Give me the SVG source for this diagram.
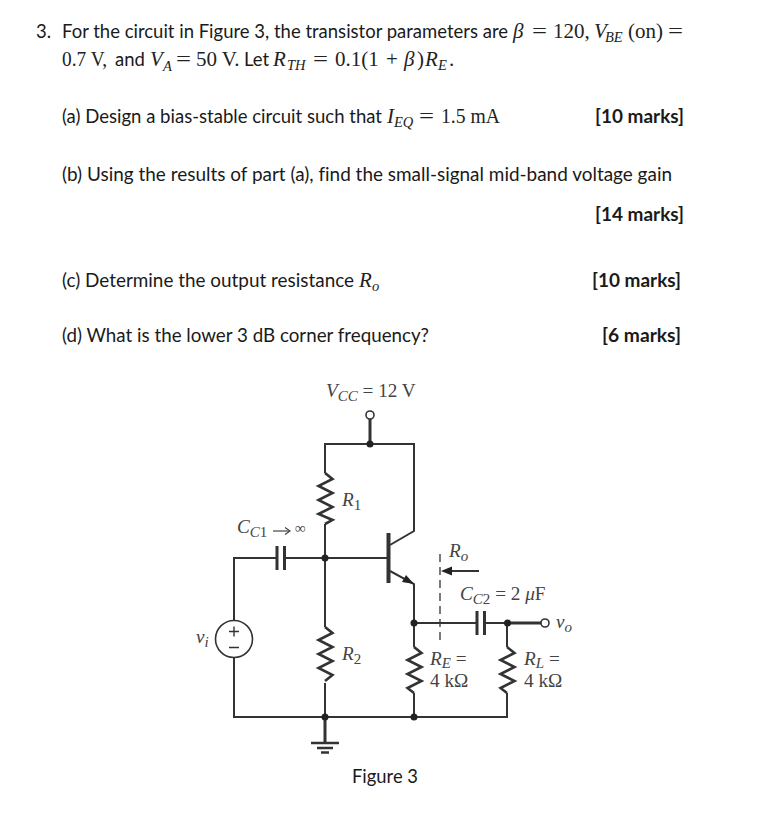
<svg xmlns="http://www.w3.org/2000/svg" width="761" height="814" viewBox="0 0 761 814">
<style>
.t{font-family:Lato,"Liberation Sans",sans-serif;font-size:18.5px;fill:#1a1a1a;font-variant-ligatures:none}
.b{font-weight:700}
.m{font-family:"Liberation Serif",serif;font-size:21px;fill:#222}
.i{font-style:italic}
.s{font-size:14.500px}
.c{font-family:"Liberation Serif",serif;font-size:19.200px;fill:#444}
.cs{font-size:15px}
.w{fill:none;stroke:#333;stroke-width:2;stroke-linejoin:miter}
.k{stroke-width:3}
.z{stroke-width:2.600}
.d{fill:#222}
</style>
<rect width="761" height="814" fill="#fff"/>
<g id="text">
<text class="t" x="36" y="38">3.</text>
<text class="t" x="62" y="38" textLength="446" lengthAdjust="spacingAndGlyphs">For the circuit in Figure 3, the transistor parameters are</text>
<text class="m i" x="513" y="38">β</text><text class="m" x="532" y="38" textLength="15" lengthAdjust="spacingAndGlyphs">=</text><text class="m" x="553" y="38">120,</text>
<text class="m i" x="594" y="38">V</text><text class="m i s" x="605" y="42">BE</text><text class="m" x="628" y="38">(on)</text><text class="m" x="668" y="38" textLength="15" lengthAdjust="spacingAndGlyphs">=</text>
<text class="m" x="62" y="66" textLength="45" lengthAdjust="spacingAndGlyphs">0.7 V,</text><text class="t" x="115" y="66">and</text>
<text class="m i" x="150" y="66">V</text><text class="m i s" x="163" y="71">A</text><text class="m" x="176" y="66" textLength="15" lengthAdjust="spacingAndGlyphs">=</text><text class="m" x="196" y="66">50 V.</text>
<text class="t" x="244" y="66">Let</text>
<text class="m i" x="273" y="66">R</text><text class="m i s" x="287" y="70">TH</text><text class="m" x="313" y="66" textLength="15" lengthAdjust="spacingAndGlyphs">=</text><text class="m" x="335" y="66">0.1(1</text><text class="m" x="386" y="66">+</text><text class="m i" x="404" y="66">β</text><text class="m" x="417" y="66">)</text><text class="m i" x="425" y="66">R</text><text class="m i s" x="438" y="70">E</text><text class="m" x="449" y="66">.</text>
<text class="t" x="62" y="123" textLength="320" lengthAdjust="spacingAndGlyphs">(a) Design a bias-stable circuit such that</text>
<text class="m i" x="387" y="123">I</text><text class="m i s" x="394" y="127">EQ</text><text class="m" x="419" y="123" textLength="15" lengthAdjust="spacingAndGlyphs">=</text><text class="m" x="441" y="123" textLength="59" lengthAdjust="spacingAndGlyphs">1.5 mA</text>
<text class="t b" x="595" y="123" textLength="89" lengthAdjust="spacingAndGlyphs">[10 marks]</text>
<text class="t" x="62" y="181" textLength="610" lengthAdjust="spacingAndGlyphs">(b) Using the results of part (a), find the small-signal mid-band voltage gain</text>
<text class="t b" x="595" y="221" textLength="89" lengthAdjust="spacingAndGlyphs">[14 marks]</text>
<text class="t" x="62" y="287" textLength="292" lengthAdjust="spacingAndGlyphs">(c) Determine the output resistance</text>
<text class="m i" x="359" y="287">R</text><text class="m i s" x="372" y="291">o</text>
<text class="t b" x="592" y="287" textLength="89" lengthAdjust="spacingAndGlyphs">[10 marks]</text>
<text class="t" x="62" y="342" textLength="367" lengthAdjust="spacingAndGlyphs">(d) What is the lower 3 dB corner frequency?</text>
<text class="t b" x="602" y="342" textLength="79" lengthAdjust="spacingAndGlyphs">[6 marks]</text>
<text class="t" x="352" y="783" textLength="66" lengthAdjust="spacingAndGlyphs">Figure 3</text>
</g>
<g id="connectors">
<path class="w k" d="M370 419V444"/>
<path class="w" d="M325 473V444H414V531L390 545"/>
<path class="w" d="M325 524V558M325 558H388M234 620V558H277M285 558H325"/>
<path class="w" d="M325 558V627M325 683V717M234 658V717H507V693M507 647V623"/>
<path class="w" d="M390 571L414 584V647M414 693V717M414 623H476M484 623H507"/>
<path class="w k" d="M507 623H541M325 717V743"/>
<path d="M440 554V640" fill="none" stroke="#333" stroke-width="1.300" stroke-dasharray="8 5"/>
<path d="M479 571H446" fill="none" stroke="#333" stroke-width="2"/>
<path class="d" d="M441 571L452 566.500V575.500Z"/>
</g>
<g id="vcc"><circle cx="370" cy="415" r="4" fill="#fff" stroke="#333" stroke-width="1.600"/><circle class="d" cx="370" cy="444" r="3.500"/>
<text class="c" x="326" y="397"><tspan class="i">V</tspan><tspan class="i cs" dy="4">CC</tspan><tspan dy="-4"> = 12 V</tspan></text></g>
<g id="r1"><path class="w z" d="M325 473L332.500 479L318.500 486L332.500 493L318.500 500L332.500 507L318.500 514L332.500 520L325 524"/>
<text class="c" x="342" y="506"><tspan class="i">R</tspan><tspan class="cs" dy="4">1</tspan></text></g>
<g id="r2"><path class="w z" d="M325 627L332.500 633L318.500 640L332.500 647L318.500 654L332.500 661L318.500 668L332.500 675L325 681"/>
<text class="c" x="342" y="660"><tspan class="i">R</tspan><tspan class="cs" dy="4">2</tspan></text></g>
<g id="re"><path class="w z" d="M414 647L421.500 653L407.500 660L421.500 667L407.500 674L421.500 681L407.500 688L414 693"/>
<text class="c" x="430" y="665"><tspan class="i">R</tspan><tspan class="i cs" dy="3">E</tspan><tspan dy="-3"> =</tspan></text><text class="c" x="430" y="687">4 kΩ</text></g>
<g id="rl"><path class="w z" d="M507 647L514.500 653L500.500 660L514.500 667L500.500 674L514.500 681L500.500 688L507 693"/>
<text class="c" x="524" y="665"><tspan class="i">R</tspan><tspan class="i cs" dy="3">L</tspan><tspan dy="-3"> =</tspan></text><text class="c" x="524" y="687">4 kΩ</text></g>
<g id="cc1"><path class="w k" d="M277 546V570M284.500 546V570"/>
<text class="c" x="237" y="533"><tspan class="i">C</tspan><tspan class="i cs" dy="4">C</tspan><tspan class="cs">1</tspan></text><path d="M273 531H289" fill="none" stroke="#444" stroke-width="1.200"/><path d="M285 527.500L290 531L285 534.500" fill="none" stroke="#444" stroke-width="1.200"/><text class="c" x="295" y="533" style="font-size:15px">∞</text></g>
<g id="cc2"><path class="w k" d="M477 611V635M484.500 611V635"/>
<text class="c" x="460" y="600"><tspan class="i">C</tspan><tspan class="i cs" dy="4">C</tspan><tspan class="cs">2</tspan><tspan dy="-4"> = 2 </tspan><tspan class="i">μ</tspan><tspan>F</tspan></text></g>
<g id="transistor"><path class="w" d="M388.500 533V583" style="stroke-width:4"/><path class="d" d="M414 584L402 582L406 575Z"/></g>
<g id="source"><circle cx="234" cy="639" r="18.500" fill="#fff" stroke="#333" stroke-width="1.600"/><path d="M229 631.500H239M234 626.500V636.500M229 647.500H239" stroke="#333" stroke-width="1.400" fill="none"/>
<text class="c i" x="196" y="643">v<tspan class="cs" dy="4">i</tspan></text></g>
<g id="ground"><path class="w" d="M311 743H339M317 748H333" style="stroke-width:2.500"/><path class="w" d="M321 752.500H329" style="stroke-width:2.500"/></g>
<g id="nodes"><circle class="d" cx="325" cy="558" r="3.500"/><circle class="d" cx="325" cy="717" r="3.500"/><circle class="d" cx="414" cy="623" r="3.500"/><circle class="d" cx="414" cy="717" r="3.500"/><circle class="d" cx="507.500" cy="623" r="3.500"/></g>
<g id="vo"><circle cx="545" cy="623" r="4" fill="#fff" stroke="#333" stroke-width="1.600"/>
<text class="c i" x="556" y="628">v<tspan class="cs" dy="4">o</tspan></text></g>
<g id="ro"><text class="c" x="449" y="557"><tspan class="i">R</tspan><tspan class="i cs" dy="4">o</tspan></text></g>
</svg>
